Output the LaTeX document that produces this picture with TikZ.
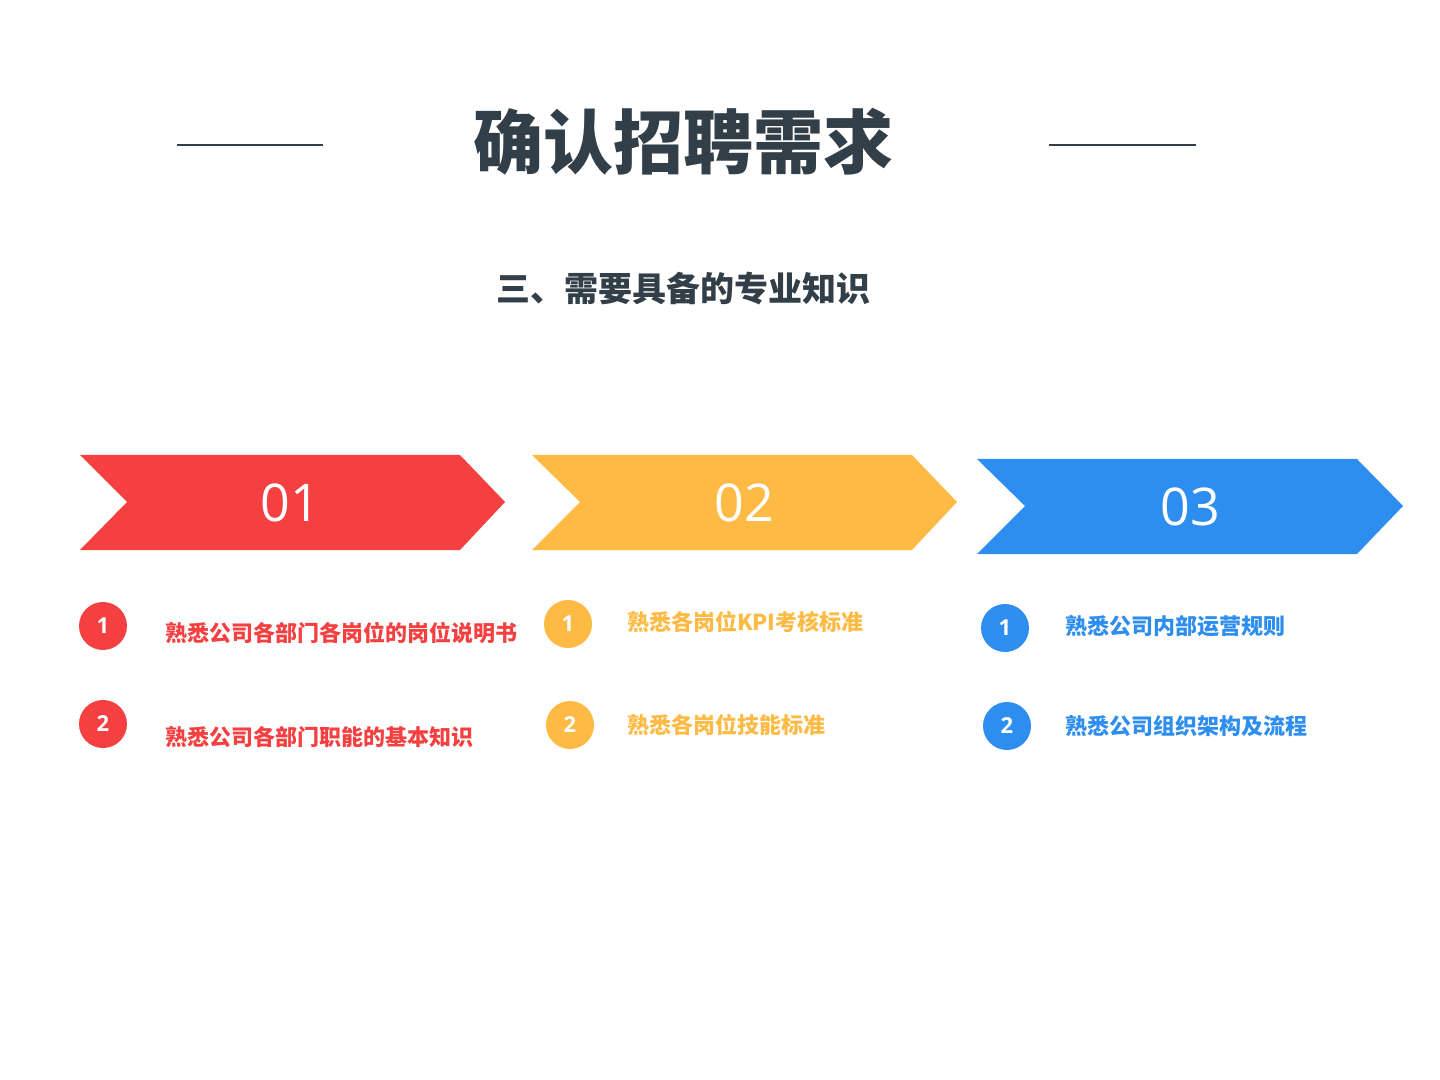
\documentclass[tikz,border=0pt]{standalone}
\usepackage{fontspec}
\newfontfamily\cjk{Noto Sans CJK SC}
\newfontfamily\num{Open Sans}
\definecolor{cr}{HTML}{F44040}
\definecolor{cy}{HTML}{FDBA45}
\definecolor{cb}{HTML}{2E8EF0}
\definecolor{dk}{HTML}{333F48}
\begin{document}
\begin{tikzpicture}[x=0.5pt,y=-0.5pt,
 item/.style={anchor=west,font=\cjk\bfseries\fontsize{11}{13}\selectfont,align=left,text width=150pt},
 dot/.style={circle,minimum size=24pt,inner sep=0,text=white,font=\num\bfseries\fontsize{11}{13}\selectfont},
 chev/.style={font=\num\fontsize{26}{30}\selectfont,text=white}]
\useasboundingbox (0,0) rectangle (1440,1080);
\node[font=\cjk\bfseries\fontsize{35}{40}\selectfont,text=dk] (title) at (683,142) {确认招聘需求};
\draw[dk,line width=1.2pt] (177,145) -- (323,145) (1049,145) -- (1196,145);
\node[font=\cjk\bfseries\fontsize{17}{20}\selectfont,text=dk] (sub) at (683,289) {三、需要具备的专业知识};
\fill[cr] (80,455)--(460,455)--(505,502)--(460,550)--(80,550)--(127,502)--cycle;
\fill[cy] (532,455)--(912,455)--(957,502)--(912,550)--(532,550)--(580,502)--cycle;
\fill[cb] (977,459)--(1357,459)--(1403,506)--(1357,554)--(977,554)--(1025,506)--cycle;
\node[chev] (c1) at (290,503) {01};
\node[chev] (c2) at (744,503) {02};
\node[chev] (c3) at (1190,507) {03};
\node[dot,fill=cr] (r1) at (103,626) {1};
\node[dot,fill=cr] (r2) at (103,724) {2};
\node[dot,fill=cy] (y1) at (568,624) {1};
\node[dot,fill=cy] (y2) at (570,725) {2};
\node[dot,fill=cb] (b1) at (1005,628) {1};
\node[dot,fill=cb] (b2) at (1007,726) {2};
\node[item,text=cr] at (158,633) {熟悉公司各部门各岗位的岗位说明书};
\node[item,text=cr] at (158,737) {熟悉公司各部门职能的基本知识};
\node[item,text=cy,text width=200pt] at (620,622) {熟悉各岗位KPI考核标准};
\node[item,text=cy,text width=200pt] at (620,725) {熟悉各岗位技能标准};
\node[item,text=cb,text width=200pt] at (1058,626) {熟悉公司内部运营规则};
\node[item,text=cb,text width=200pt] at (1058,726) {熟悉公司组织架构及流程};
\end{tikzpicture}
\end{document}
